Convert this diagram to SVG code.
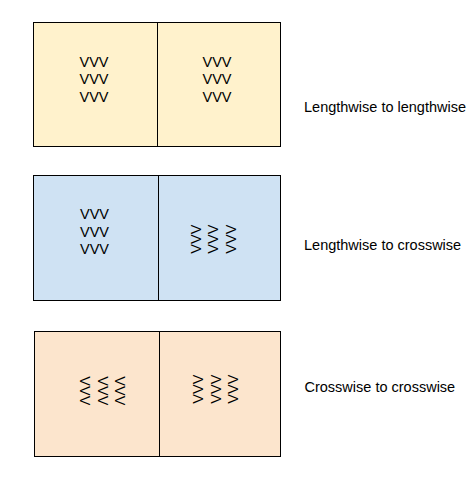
<svg xmlns="http://www.w3.org/2000/svg" width="475" height="482" viewBox="0 0 475 482">
<style>
.c{stroke:#000;stroke-width:1}
.y{fill:#fff2cc}.b{fill:#cfe2f3}.o{fill:#fce5cd}
text{font-family:"Liberation Sans",Arial,sans-serif;font-size:14.5px;fill:#000}
.m{text-anchor:middle}
</style>
<rect width="475" height="482" fill="#fff"/>
<g id="row1-left">
<rect class="c y" x="33.5" y="22.5" width="124" height="124"/>
<text class="m" x="94" y="66.7">VVV</text>
<text class="m" x="94" y="84.2">VVV</text>
<text class="m" x="94" y="101.7">VVV</text>
</g>
<g id="row1-right">
<rect class="c y" x="157.5" y="22.5" width="123" height="124"/>
<text class="m" x="217" y="66.7">VVV</text>
<text class="m" x="217" y="84.2">VVV</text>
<text class="m" x="217" y="101.7">VVV</text>
</g>
<g id="row2-left">
<rect class="c b" x="33.5" y="175.5" width="125" height="125"/>
<text class="m" x="94.5" y="219.3">VVV</text>
<text class="m" x="94.5" y="236.8">VVV</text>
<text class="m" x="94.5" y="254.3">VVV</text>
</g>
<g id="row2-right">
<rect class="c b" x="158.5" y="175.5" width="122" height="125"/>
<text class="m" transform="translate(200.7,239.2) rotate(-90)">VVV</text>
<text class="m" transform="translate(218.3,239.2) rotate(-90)">VVV</text>
<text class="m" transform="translate(236,239.2) rotate(-90)">VVV</text>
</g>
<g id="row3-left">
<rect class="c o" x="34.5" y="331.5" width="125" height="125"/>
<text class="m" transform="translate(80,390.8) rotate(90)">VVV</text>
<text class="m" transform="translate(97.5,390.8) rotate(90)">VVV</text>
<text class="m" transform="translate(115,390.8) rotate(90)">VVV</text>
</g>
<g id="row3-right">
<rect class="c o" x="159.5" y="331.5" width="121" height="125"/>
<text class="m" transform="translate(203.3,389.2) rotate(-90)">VVV</text>
<text class="m" transform="translate(220.7,389.2) rotate(-90)">VVV</text>
<text class="m" transform="translate(238.3,389.2) rotate(-90)">VVV</text>
</g>
<g id="label1"><text x="304" y="112">Lengthwise to lengthwise</text></g>
<g id="label2"><text x="304" y="250">Lengthwise to crosswise</text></g>
<g id="label3"><text x="304.5" y="391.7">Crosswise to crosswise</text></g>
</svg>
